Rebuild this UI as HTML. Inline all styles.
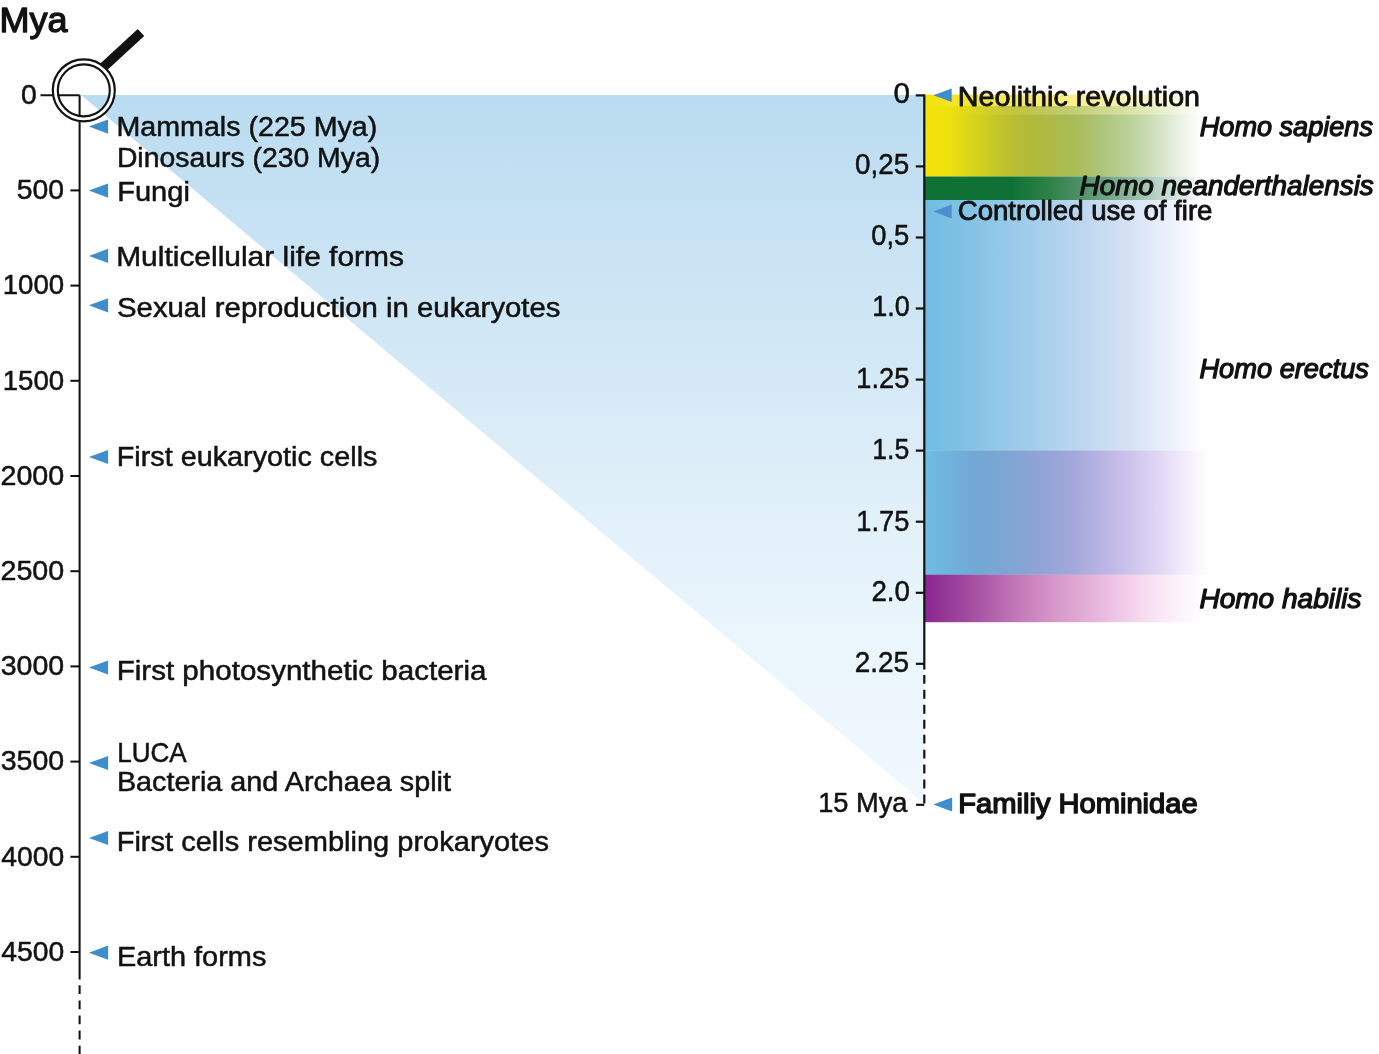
<!DOCTYPE html>
<html lang="en"><head><meta charset="utf-8"><title>Timeline of life and human evolution</title>
<style>
html,body{margin:0;padding:0;background:#fff}
body{width:1379px;height:1054px;overflow:hidden}
svg{display:block;font-family:"Liberation Sans",sans-serif}
text{fill:#121212;stroke-linejoin:round}
</style></head><body>
<svg width="1379" height="1054" viewBox="0 0 1379 1054">
<defs>
<linearGradient id="zoomg" x1="0" y1="0" x2="0" y2="1">
<stop offset="0" stop-color="#badcf0"/><stop offset="0.25" stop-color="#cbe4f4"/><stop offset="0.51" stop-color="#dcedf8"/><stop offset="0.656" stop-color="#e5f2fb"/><stop offset="0.76" stop-color="#eaf5fc"/><stop offset="1" stop-color="#f0f8fe"/>
</linearGradient>
<linearGradient id="y1" x1="0" y1="0" x2="1" y2="0">
<stop offset="0" stop-color="#f2e30a"/><stop offset="0.12" stop-color="#f3e52a"/><stop offset="0.5" stop-color="#f8ee85"/><stop offset="0.8" stop-color="#fbf6c4"/><stop offset="1" stop-color="#ffffff"/>
</linearGradient>
<linearGradient id="y3" x1="0" y1="0" x2="1" y2="0">
<stop offset="0" stop-color="#f2e30a"/><stop offset="0.086" stop-color="#efe10c"/><stop offset="0.18" stop-color="#dad622"/><stop offset="0.3" stop-color="#c6c63c"/><stop offset="0.377" stop-color="#c0c450"/><stop offset="0.535" stop-color="#c3cd72"/><stop offset="0.652" stop-color="#cfd98f"/><stop offset="0.77" stop-color="#dde5ae"/><stop offset="0.85" stop-color="#e8eec8"/><stop offset="0.928" stop-color="#f3f6e2"/><stop offset="1" stop-color="#ffffff"/>
</linearGradient>
<linearGradient id="y2" x1="0" y1="0" x2="1" y2="0">
<stop offset="0" stop-color="#f2e30a"/><stop offset="0.086" stop-color="#efe10c"/><stop offset="0.18" stop-color="#d6d31c"/><stop offset="0.3" stop-color="#bcc02e"/><stop offset="0.377" stop-color="#b2ba3a"/><stop offset="0.535" stop-color="#a8bb55"/><stop offset="0.652" stop-color="#aec67e"/><stop offset="0.77" stop-color="#c0d5a5"/><stop offset="0.85" stop-color="#d5e3c5"/><stop offset="0.928" stop-color="#ecf2e6"/><stop offset="1" stop-color="#ffffff"/>
</linearGradient>
<linearGradient id="gr" x1="0" y1="0" x2="1" y2="0">
<stop offset="0" stop-color="#0f7136"/><stop offset="0.31" stop-color="#0f7136"/><stop offset="0.45" stop-color="#2f8149"/><stop offset="0.55" stop-color="#4c9064"/><stop offset="0.7" stop-color="#80ae92"/><stop offset="0.82" stop-color="#b0cfc0"/><stop offset="0.93" stop-color="#dcebe4"/><stop offset="1" stop-color="#ffffff"/>
</linearGradient>
<linearGradient id="b1" x1="0" y1="0" x2="1" y2="0">
<stop offset="0" stop-color="#70bce1"/><stop offset="0.218" stop-color="#8bc5e6"/><stop offset="0.374" stop-color="#a1cdea"/><stop offset="0.53" stop-color="#b8d5ee"/><stop offset="0.687" stop-color="#cfdff3"/><stop offset="0.843" stop-color="#e6ecfa"/><stop offset="0.921" stop-color="#f3f5fd"/><stop offset="1" stop-color="#ffffff"/>
</linearGradient>
<linearGradient id="b2" x1="0" y1="0" x2="1" y2="0">
<stop offset="0" stop-color="#6fbde2"/><stop offset="0.06" stop-color="#6fb5dd"/><stop offset="0.174" stop-color="#72a8d5"/><stop offset="0.287" stop-color="#7ea5d3"/><stop offset="0.4" stop-color="#8fa4d5"/><stop offset="0.514" stop-color="#a2a8da"/><stop offset="0.627" stop-color="#bbb5e4"/><stop offset="0.741" stop-color="#d2c8ee"/><stop offset="0.817" stop-color="#e1d7f5"/><stop offset="0.892" stop-color="#f0eafa"/><stop offset="0.968" stop-color="#fcfafe"/><stop offset="1" stop-color="#ffffff"/>
</linearGradient>
<linearGradient id="pu" x1="0" y1="0" x2="1" y2="0">
<stop offset="0" stop-color="#8a2591"/><stop offset="0.1" stop-color="#993d99"/><stop offset="0.217" stop-color="#ad5aa6"/><stop offset="0.334" stop-color="#c278b8"/><stop offset="0.451" stop-color="#d594c8"/><stop offset="0.568" stop-color="#e1acd6"/><stop offset="0.684" stop-color="#efc5e5"/><stop offset="0.762" stop-color="#f5d6ee"/><stop offset="0.84" stop-color="#fae6f6"/><stop offset="0.918" stop-color="#fdf3fb"/><stop offset="1" stop-color="#ffffff"/>
</linearGradient>
</defs>
<rect width="1379" height="1054" fill="#fff"/>

<polygon points="81.1,94.9 924.3,94.9 924.3,803.5" fill="url(#zoomg)"/>
<rect x="924.3" y="94.6" width="276.7" height="12" fill="url(#y1)"/>
<rect x="924.3" y="106.0" width="276.7" height="9" fill="url(#y3)"/>
<rect x="924.3" y="114.6" width="276.7" height="62" fill="url(#y2)"/>
<rect x="924.3" y="176.5" width="278.7" height="23.8" fill="url(#gr)"/>
<rect x="924.3" y="200.0" width="278.7" height="250.8" fill="url(#b1)"/>
<rect x="924.3" y="450.5" width="287.7" height="124.4" fill="url(#b2)"/>
<rect x="924.3" y="574.7" width="279.7" height="47.5" fill="url(#pu)"/>
<g stroke="#121212" stroke-width="2.05" fill="none">
<line x1="79.6" y1="95.2" x2="79.6" y2="979.4"/>
<line x1="79.6" y1="985.3" x2="79.6" y2="1054" stroke-dasharray="8.8 6.3"/>
<line x1="40.5" y1="95.2" x2="79.6" y2="95.2"/>
<line x1="70.4" y1="190.4" x2="79.6" y2="190.4"/>
<line x1="70.4" y1="285.6" x2="79.6" y2="285.6"/>
<line x1="70.4" y1="380.8" x2="79.6" y2="380.8"/>
<line x1="70.4" y1="476.0" x2="79.6" y2="476.0"/>
<line x1="70.4" y1="571.2" x2="79.6" y2="571.2"/>
<line x1="70.4" y1="666.4" x2="79.6" y2="666.4"/>
<line x1="70.4" y1="761.6" x2="79.6" y2="761.6"/>
<line x1="70.4" y1="856.8" x2="79.6" y2="856.8"/>
<line x1="70.4" y1="952.0" x2="79.6" y2="952.0"/>
</g>
<g stroke="#121212" stroke-width="2.2" fill="none">
<line x1="924.3" y1="94.5" x2="924.3" y2="669.4"/>
<line x1="924.3" y1="674.9" x2="924.3" y2="805.6" stroke-dasharray="8.9 6.05"/>
<line x1="915.8" y1="95.4" x2="924.3" y2="95.4"/>
<line x1="915.8" y1="166.4" x2="924.3" y2="166.4"/>
<line x1="915.8" y1="237.5" x2="924.3" y2="237.5"/>
<line x1="915.8" y1="308.5" x2="924.3" y2="308.5"/>
<line x1="915.8" y1="379.6" x2="924.3" y2="379.6"/>
<line x1="915.8" y1="450.6" x2="924.3" y2="450.6"/>
<line x1="915.8" y1="521.7" x2="924.3" y2="521.7"/>
<line x1="915.8" y1="592.8" x2="924.3" y2="592.8"/>
<line x1="915.8" y1="663.8" x2="924.3" y2="663.8"/>
<line x1="916.1" y1="804.8" x2="924.3" y2="804.8"/>
</g>
<line x1="103" y1="67.5" x2="141" y2="32.5" stroke="#121212" stroke-width="9.5"/>
<circle cx="83.8" cy="90.3" r="28.6" fill="none" stroke="#fff" stroke-width="4.2"/>
<circle cx="83.8" cy="90.3" r="31" fill="none" stroke="#121212" stroke-width="2.15"/>
<circle cx="83.8" cy="90.3" r="26" fill="none" stroke="#121212" stroke-width="2.15"/>
<text x="-0.50" y="32.0" font-size="35.6" textLength="68.00" lengthAdjust="spacingAndGlyphs" stroke="#121212" stroke-width="1.3">Mya</text>
<text x="20.95" y="104.2" font-size="27.7" textLength="15.75" lengthAdjust="spacingAndGlyphs" stroke="#121212" stroke-width="0.5">0</text>
<text x="16.80" y="199.2" font-size="27.7" textLength="47.25" lengthAdjust="spacingAndGlyphs" stroke="#121212" stroke-width="0.5">500</text>
<text x="2.75" y="294.4" font-size="27.7" textLength="61.50" lengthAdjust="spacingAndGlyphs" stroke="#121212" stroke-width="0.5">1000</text>
<text x="2.75" y="389.6" font-size="27.7" textLength="61.50" lengthAdjust="spacingAndGlyphs" stroke="#121212" stroke-width="0.5">1500</text>
<text x="0.50" y="484.8" font-size="27.7" textLength="63.75" lengthAdjust="spacingAndGlyphs" stroke="#121212" stroke-width="0.5">2000</text>
<text x="0.50" y="580.0" font-size="27.7" textLength="63.75" lengthAdjust="spacingAndGlyphs" stroke="#121212" stroke-width="0.5">2500</text>
<text x="0.75" y="675.2" font-size="27.7" textLength="63.50" lengthAdjust="spacingAndGlyphs" stroke="#121212" stroke-width="0.5">3000</text>
<text x="0.75" y="770.4" font-size="27.7" textLength="63.50" lengthAdjust="spacingAndGlyphs" stroke="#121212" stroke-width="0.5">3500</text>
<text x="1.25" y="865.6" font-size="27.7" textLength="63.00" lengthAdjust="spacingAndGlyphs" stroke="#121212" stroke-width="0.5">4000</text>
<text x="1.25" y="960.8" font-size="27.7" textLength="63.00" lengthAdjust="spacingAndGlyphs" stroke="#121212" stroke-width="0.5">4500</text>
<text x="116.50" y="135.7" font-size="27.0" textLength="260.75" lengthAdjust="spacingAndGlyphs" stroke="#121212" stroke-width="0.5">Mammals (225 Mya)</text>
<polygon points="88.9,126.6 108.1,119.5 108.1,133.7" fill="#3f8ecb"/>
<text x="116.90" y="166.5" font-size="27.0" textLength="263.25" lengthAdjust="spacingAndGlyphs" stroke="#121212" stroke-width="0.5">Dinosaurs (230 Mya)</text>
<text x="117.20" y="201.4" font-size="26.9" textLength="72.75" lengthAdjust="spacingAndGlyphs" stroke="#121212" stroke-width="0.5">Fungi</text>
<polygon points="88.9,190.6 108.1,183.5 108.1,197.7" fill="#3f8ecb"/>
<text x="116.20" y="266.3" font-size="26.9" textLength="287.75" lengthAdjust="spacingAndGlyphs" stroke="#121212" stroke-width="0.5">Multicellular life forms</text>
<polygon points="88.9,255.9 108.1,248.8 108.1,263.0" fill="#3f8ecb"/>
<text x="117.00" y="317.1" font-size="26.9" textLength="443.50" lengthAdjust="spacingAndGlyphs" stroke="#121212" stroke-width="0.5">Sexual reproduction in eukaryotes</text>
<polygon points="88.9,305.3 108.1,298.2 108.1,312.4" fill="#3f8ecb"/>
<text x="116.70" y="466.1" font-size="26.9" textLength="260.75" lengthAdjust="spacingAndGlyphs" stroke="#121212" stroke-width="0.5">First eukaryotic cells</text>
<polygon points="88.9,457.0 108.1,449.9 108.1,464.1" fill="#3f8ecb"/>
<text x="116.70" y="679.7" font-size="26.9" textLength="369.75" lengthAdjust="spacingAndGlyphs" stroke="#121212" stroke-width="0.5">First photosynthetic bacteria</text>
<polygon points="88.9,667.5 108.1,660.4 108.1,674.6" fill="#3f8ecb"/>
<text x="117.15" y="761.7" font-size="26.9" textLength="69.50" lengthAdjust="spacingAndGlyphs" stroke="#121212" stroke-width="0.5">LUCA</text>
<polygon points="88.9,763.0 108.1,755.9 108.1,770.1" fill="#3f8ecb"/>
<text x="116.90" y="791.2" font-size="26.9" textLength="334.00" lengthAdjust="spacingAndGlyphs" stroke="#121212" stroke-width="0.5">Bacteria and Archaea split</text>
<text x="116.70" y="850.7" font-size="26.9" textLength="432.25" lengthAdjust="spacingAndGlyphs" stroke="#121212" stroke-width="0.5">First cells resembling prokaryotes</text>
<polygon points="88.9,838.0 108.1,830.9 108.1,845.1" fill="#3f8ecb"/>
<text x="116.90" y="965.7" font-size="26.9" textLength="149.50" lengthAdjust="spacingAndGlyphs" stroke="#121212" stroke-width="0.5">Earth forms</text>
<polygon points="88.9,952.7 108.1,945.6 108.1,959.8" fill="#3f8ecb"/>
<text x="893.50" y="102.8" font-size="28.6" textLength="16.50" lengthAdjust="spacingAndGlyphs" stroke="#121212" stroke-width="0.5">0</text>
<text x="855.10" y="174.4" font-size="28.6" textLength="54.00" lengthAdjust="spacingAndGlyphs" stroke="#121212" stroke-width="0.5">0,25</text>
<text x="871.25" y="245.3" font-size="28.6" textLength="38.00" lengthAdjust="spacingAndGlyphs" stroke="#121212" stroke-width="0.5">0,5</text>
<text x="872.25" y="316.1" font-size="28.6" textLength="37.50" lengthAdjust="spacingAndGlyphs" stroke="#121212" stroke-width="0.5">1.0</text>
<text x="856.30" y="387.8" font-size="28.6" textLength="53.00" lengthAdjust="spacingAndGlyphs" stroke="#121212" stroke-width="0.5">1.25</text>
<text x="872.25" y="459.1" font-size="28.6" textLength="37.00" lengthAdjust="spacingAndGlyphs" stroke="#121212" stroke-width="0.5">1.5</text>
<text x="856.30" y="530.5" font-size="28.6" textLength="53.00" lengthAdjust="spacingAndGlyphs" stroke="#121212" stroke-width="0.5">1.75</text>
<text x="871.40" y="600.8" font-size="28.6" textLength="38.50" lengthAdjust="spacingAndGlyphs" stroke="#121212" stroke-width="0.5">2.0</text>
<text x="854.85" y="672.1" font-size="28.6" textLength="54.25" lengthAdjust="spacingAndGlyphs" stroke="#121212" stroke-width="0.5">2.25</text>
<text x="818.15" y="812.1" font-size="27.0" textLength="89.25" lengthAdjust="spacingAndGlyphs" stroke="#121212" stroke-width="0.5">15 Mya</text>
<polygon points="933.3,95.3 951.7,88.5 951.7,102.1" fill="#3f8ecb"/>
<text x="957.80" y="105.5" font-size="26.9" textLength="242.25" lengthAdjust="spacingAndGlyphs" stroke="#121212" stroke-width="0.8">Neolithic revolution</text>
<polygon points="933.5,211.5 951.7,204.5 951.7,218.5" fill="#4888c9" fill-opacity="0.88"/>
<text x="957.70" y="220.2" font-size="26.9" textLength="254.75" lengthAdjust="spacingAndGlyphs" stroke="#121212" stroke-width="0.85">Controlled use of fire</text>
<polygon points="933.3,804.6 952.1,797.6 952.1,811.6" fill="#3f8ecb"/>
<text x="958.35" y="813.0" font-size="28.2" textLength="239.25" lengthAdjust="spacingAndGlyphs" stroke="#121212" stroke-width="1.45">Familiy Hominidae</text>
<text x="1199.75" y="136.1" font-size="27.5" textLength="173.25" lengthAdjust="spacingAndGlyphs" font-style="italic" stroke="#121212" stroke-width="1.25">Homo sapiens</text>
<text x="1079.55" y="195.2" font-size="27.5" textLength="294.25" lengthAdjust="spacingAndGlyphs" font-style="italic" stroke="#121212" stroke-width="1.25">Homo neanderthalensis</text>
<text x="1199.45" y="378.0" font-size="27.5" textLength="169.50" lengthAdjust="spacingAndGlyphs" font-style="italic" stroke="#121212" stroke-width="1.25">Homo erectus</text>
<text x="1199.45" y="608.0" font-size="27.5" textLength="162.00" lengthAdjust="spacingAndGlyphs" font-style="italic" stroke="#121212" stroke-width="1.25">Homo habilis</text>
</svg></body></html>
